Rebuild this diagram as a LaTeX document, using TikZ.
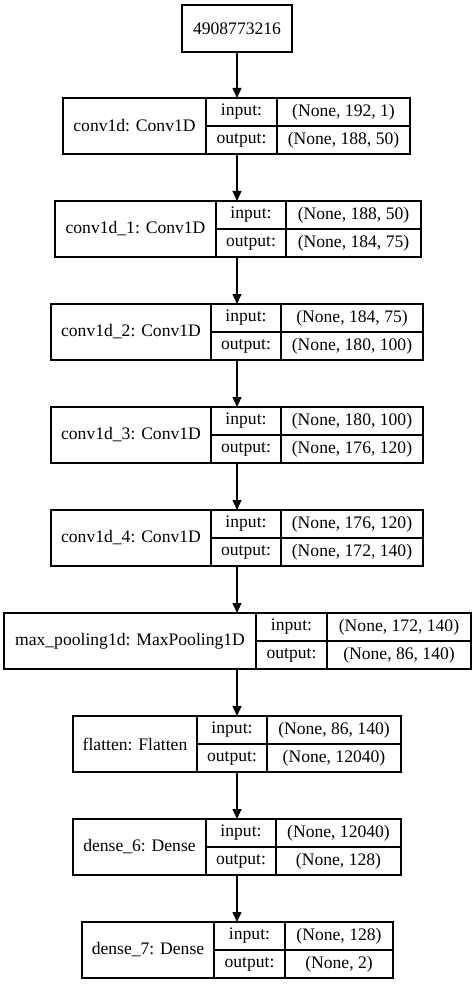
\documentclass[tikz,border=0pt]{standalone}
\usepackage{fontspec}
\setmainfont{Liberation Serif}
\usetikzlibrary{arrows.meta,positioning}
\tikzset{
  cell/.style={draw=black,line width=0.6pt,inner sep=0pt,outer sep=0pt,
               font=\fontsize{8.8pt}{10.5pt}\selectfont,align=center},
  edge/.style={-{Triangle[length=5pt,width=4.5pt]},line width=0.6pt,
               draw=black}
}

\begin{document}
\begin{tikzpicture}[x=0.5pt,y=-0.5pt]
  \path[use as bounding box] (0,0) rectangle (474,984);
  \node[cell,minimum width=55pt,minimum height=23.5pt] (top) at (237,28.5)
    {4908773216};
  % one record per layer: label | input:/output: | shapes
  \foreach \i/\lab/\inp/\outp/\xa/\xb/\xc/\xd in {
    1/{conv1d: Conv1D}/{(None, 192, 1)}/{(None, 188, 50)}/63/206/277/410,
    2/{conv1d\_1: Conv1D}/{(None, 188, 50)}/{(None, 184, 75)}/55/216/286/421,
    3/{conv1d\_2: Conv1D}/{(None, 184, 75)}/{(None, 180, 100)}/51/211/281/423,
    4/{conv1d\_3: Conv1D}/{(None, 180, 100)}/{(None, 176, 120)}/51/211/281/423,
    5/{conv1d\_4: Conv1D}/{(None, 176, 120)}/{(None, 172, 140)}/51/211/281/423,
    6/{max\_pooling1d: MaxPooling1D}/{(None, 172, 140)}/{(None, 86, 140)}/4/256/327/471,
    7/{flatten: Flatten}/{(None, 86, 140)}/{(None, 12040)}/73/197/267/401,
    8/{dense\_6: Dense}/{(None, 12040)}/{(None, 128)}/73/206/276/401,
    9/{dense\_7: Dense}/{(None, 128)}/{(None, 2)}/82/214/285/393}{
    \pgfmathsetmacro\ymid{126+103*(\i-1)}
    \node[cell,minimum width={(\xb-\xa)*0.5pt},minimum height=28pt]
      (lab\i) at ({(\xa+\xb)/2},\ymid) {\lab};
    \node[cell,minimum width={(\xc-\xb)*0.5pt},minimum height=14pt]
      (in\i) at ({(\xb+\xc)/2},\ymid-14) {input:};
    \node[cell,minimum width={(\xc-\xb)*0.5pt},minimum height=14pt]
      (out\i) at ({(\xb+\xc)/2},\ymid+14) {output:};
    \node[cell,minimum width={(\xd-\xc)*0.5pt},minimum height=14pt]
      (inval\i) at ({(\xc+\xd)/2},\ymid-14) {\inp};
    \node[cell,minimum width={(\xd-\xc)*0.5pt},minimum height=14pt]
      (outval\i) at ({(\xc+\xd)/2},\ymid+14) {\outp};
  }
  \draw[edge] (top) -- (top |- lab1.north);
  \foreach \i [evaluate=\i as \j using int(\i+1)] in {1,...,8}
    \draw[edge] (top |- lab\i.south) -- (top |- lab\j.north);
\end{tikzpicture}
\end{document}
